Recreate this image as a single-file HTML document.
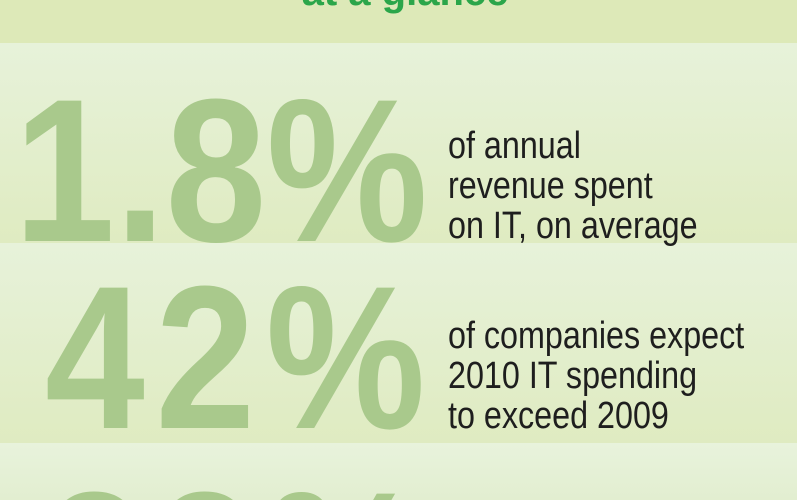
<!DOCTYPE html>
<html style="width:800px;height:500px;overflow:hidden;"><head><meta charset="utf-8"><style>
html,body{margin:0;padding:0;}
body{width:800px;height:500px;overflow:hidden;background:#fff;font-family:"Liberation Sans",sans-serif;}
#wrap{position:relative;width:800px;height:500px;overflow:hidden;}
.band{position:absolute;left:0;width:797px;}
.big{position:absolute;font-weight:bold;color:#a9c98c;font-size:204px;line-height:1;white-space:nowrap;transform-origin:0 0;}
.txt{position:absolute;left:448px;color:#1e1e1e;font-size:38px;line-height:40px;white-space:nowrap;transform:scaleX(0.85);transform-origin:0 0;}
</style></head><body><div id="wrap">
<div class="band" style="top:0;height:43px;background:#dde9b8;"></div>
<div class="band" style="top:43px;height:200px;background:linear-gradient(#e7f2da,#dfebc1);"></div>
<div class="band" style="top:243px;height:200px;background:linear-gradient(#e7f2da,#dfebc1);"></div>
<div class="band" style="top:443px;height:57px;background:linear-gradient(#e8f3dc,#e2eed0);"></div>
<div style="position:absolute;left:280px;top:-30px;width:250px;text-align:center;color:#2ba64a;font-weight:bold;font-size:40px;">at a glance</div>
<div class="big" style="left:14px;top:69px;transform:scaleX(0.89);">1.8%</div>
<div class="big" style="left:45px;top:256px;transform:scaleX(0.88);letter-spacing:12px;">42%</div>
<div style="position:absolute;left:0;top:462px;width:800px;height:38px;overflow:hidden;"><div class="big" style="left:45px;top:0;transform:scaleX(0.88);letter-spacing:12px;">33%</div></div>
<div class="txt" style="top:126px;">of annual<br>revenue spent<br>on IT, on average</div>
<div class="txt" style="top:316px;">of companies expect<br>2010 IT spending<br>to exceed 2009</div>
</div></body></html>
